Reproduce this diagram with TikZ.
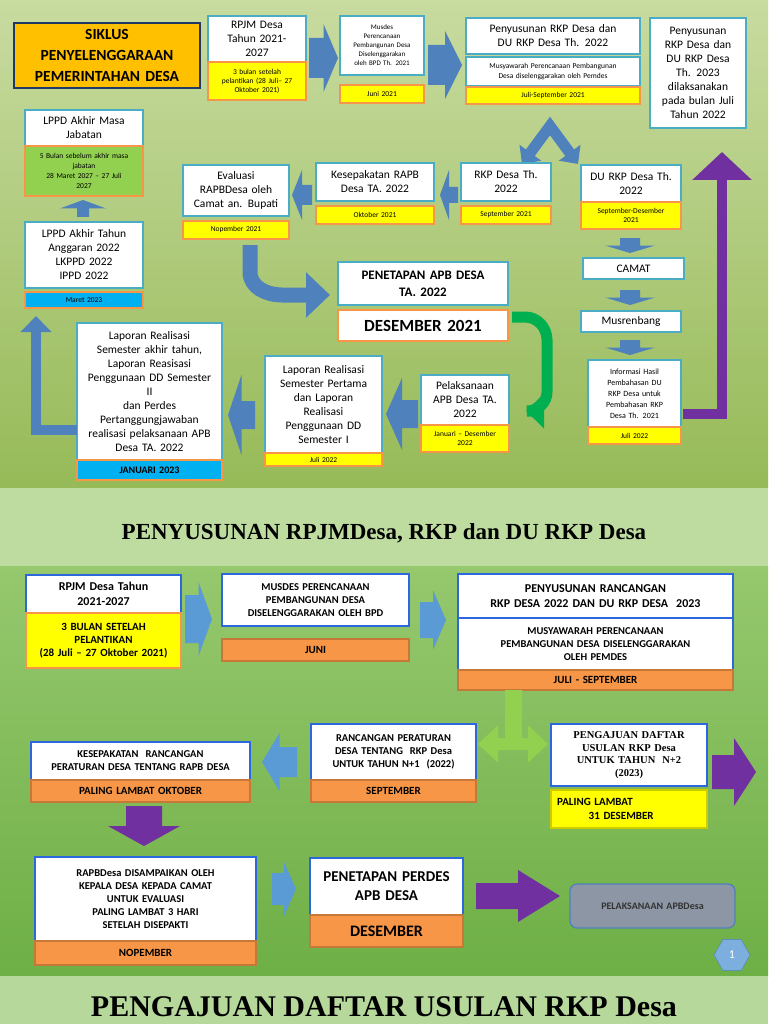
\documentclass[tikz,border=0pt]{standalone}
\usepackage{fontspec}
\setmainfont{Carlito}
\newfontfamily\tms{Liberation Serif}
\usetikzlibrary{arrows.meta,shapes.geometric}
\definecolor{cb}{HTML}{4BACC6}
\definecolor{ob}{HTML}{F79646}
\definecolor{yl}{HTML}{FFFF00}
\definecolor{sky}{HTML}{00B0F0}
\definecolor{gbox}{HTML}{92D050}
\definecolor{ab}{HTML}{4F81BD}
\definecolor{lab}{HTML}{5B9BD5}
\definecolor{pu}{HTML}{7030A0}
\definecolor{gr}{HTML}{00B050}
\definecolor{lgr}{HTML}{92D050}
\definecolor{bgA}{HTML}{C8DBA0}
\definecolor{bgB}{HTML}{96BA58}
\definecolor{bgC}{HTML}{BEDCA0}
\definecolor{bgD}{HTML}{96C86E}
\definecolor{bgE}{HTML}{6EAF46}
\definecolor{bgF}{HTML}{B6D89B}
\definecolor{tor}{HTML}{FFC000}
\definecolor{tnv}{HTML}{1F3864}
\definecolor{gry}{HTML}{8C96A5}
\newcommand\AH[6]{\fill[#1] ({#2},{#4-#6}) -- ({#3-0.5*(#3-#2)},{#4-#6}) -- ({#3-0.5*(#3-#2)},{#4-#5}) -- ({#3},{#4}) -- ({#3-0.5*(#3-#2)},{#4+#5}) -- ({#3-0.5*(#3-#2)},{#4+#6}) -- ({#2},{#4+#6}) -- cycle;}
\newcommand\AV[6]{\fill[#1] ({#4-#6},{#2}) -- ({#4-#6},{#3-0.5*(#3-#2)}) -- ({#4-#5},{#3-0.5*(#3-#2)}) -- ({#4},{#3}) -- ({#4+#5},{#3-0.5*(#3-#2)}) -- ({#4+#6},{#3-0.5*(#3-#2)}) -- ({#4+#6},{#2}) -- cycle;}
\newcommand\B[7][]{\pgfmathsetmacro\bw{#5-#3}\pgfmathsetmacro\bh{#6-#4}\pgfmathsetmacro\tw{#5-#3-5}%
\node[box,minimum width=\bw pt,minimum height=\bh pt,text width=\tw pt,#1] (#2) at ({(#3+#5)/2},{(#4+#6)/2}) {#7};}
\begin{document}
\begin{tikzpicture}[x=1pt,y=-1pt,
 box/.style={draw=cb,fill=white,line width=1.3pt,align=center,inner sep=2.5pt,font=\fontsize{11.5}{14}\selectfont},
 yb/.style={fill=yl,draw=ob,font=\fontsize{7.5}{9}\selectfont},
 ob2/.style={fill=ob,draw=ob!80!black,font=\fontsize{11}{13}\bfseries},
 bb/.style={font=\fontsize{10.5}{13}\bfseries}]
\useasboundingbox (0,0) rectangle (768,1024);
% backgrounds
\shade[top color=bgA, bottom color=bgB] (0,0) rectangle (768,488);
\fill[bgC] (0,488) rectangle (768,566);
\shade[top color=bgD, bottom color=bgE] (0,566) rectangle (768,976);
\fill[bgF] (0,976) rectangle (768,1024);
% ---------- top ----------
\B[fill=tor,draw=tnv,font=\fontsize{15.5}{21}\bfseries]{t}{14}{23}{200}{88}{SIKLUS\\PENYELENGGARAAN\\PEMERINTAHAN DESA}
\B{r1}{208}{16}{306}{62}{RPJM Desa\\Tahun 2021-\\2027}
\B[yb]{r1y}{208}{62}{306}{100}{3 bulan setelah\\pelantikan (28 Juli– 27\\Oktober 2021)}
\AH{ab}{309}{338}{58}{34}{20}
\B[font=\fontsize{7}{9}\selectfont]{m1}{340}{16}{424}{75}{Musdes\\Perencanaan\\Pembangunan Desa\\Diselenggarakan\\oleh BPD Th. 2021}
\B[yb]{m1y}{340}{85}{424}{103}{Juni 2021}
\AH{ab}{428}{462}{65}{34}{20}
\B{p1}{466}{18}{640}{54}{Penyusunan RKP Desa dan\\DU RKP Desa Th. 2022}
\B[font=\fontsize{7.5}{10}\selectfont]{p2}{466}{57}{640}{86}{Musyawarah Perencanaan Pembangunan\\Desa diselenggarakan oleh Pemdes}
\B[yb]{p1y}{466}{87}{640}{104}{Juli-September 2021}
\B{p3}{650}{18}{746}{128}{Penyusunan\\RKP Desa dan\\DU RKP Desa\\Th. 2023\\dilaksanakan\\pada bulan Juli\\Tahun 2022}
\draw[ab,line width=11pt,{Triangle[length=14pt,width=26pt]}-{Triangle[length=14pt,width=26pt]}] (522,164) -- (550,126) -- (578,164);
\B{l1}{25}{110}{143}{146}{LPPD Akhir Masa\\Jabatan}
\B[fill=gbox,draw=ob,font=\fontsize{7.5}{10}\selectfont]{l1g}{25}{146}{143}{196}{5 Bulan sebelum akhir masa\\jabatan\\28 Maret 2027 – 27 Juli\\2027}
\AV{ab}{217}{200}{83}{23}{6}
\B{l2}{25}{222}{143}{288}{LPPD Akhir Tahun\\Anggaran 2022\\LKPPD 2022\\IPPD 2022}
\B[fill=sky,draw=ob,font=\fontsize{7.5}{9}\selectfont]{l2b}{25}{292}{143}{308}{Maret 2023}
\B{e1}{183}{165}{289}{216}{Evaluasi\\RAPBDesa oleh\\Camat an. Bupati}
\B[yb]{e1y}{183}{221}{289}{239}{Nopember 2021}
\AH{ab}{312}{292}{195}{25}{10}
\B{k1}{316}{163}{434}{201}{Kesepakatan RAPB\\Desa TA. 2022}
\B[yb]{k1y}{316}{206}{434}{224}{Oktober 2021}
\AH{ab}{458}{440}{195}{25}{8}
\B{rk}{461}{163}{551}{201}{RKP Desa Th.\\2022}
\B[yb]{rky}{461}{206}{551}{224}{September 2021}
\B{du}{581}{165}{681}{202}{DU RKP Desa Th.\\2022}
\B[yb]{duy}{581}{202}{681}{229}{September-Desember\\2021}
\AV{ab}{238}{253}{630}{25}{10}
\B{cm}{583}{258}{684}{279}{CAMAT}
\AV{ab}{290}{305}{630}{25}{10}
\B{mu}{581}{311}{681}{332}{Musrenbang}
\AV{ab}{340}{355}{630}{25}{10}
\B[font=\fontsize{8}{11}\selectfont]{inf}{588}{360}{681}{427}{Informasi Hasil\\Pembahasan DU\\RKP Desa untuk\\Pembahasan RKP\\Desa Th. 2021}
\B[yb]{infy}{588}{427}{681}{444}{Juli 2022}
\draw[pu,line width=10pt,-{Triangle[length=28pt,width=58pt]}] (683,414) -- (722,414) -- (722,152);
\draw[ab,line width=15pt,-{Triangle[length=24pt,width=44pt]}] (250,245) -- (250,272) to[out=-90,in=180] (282,295) -- (330,295);
\B[font=\fontsize{13}{17}\bfseries]{pn}{338}{262}{508}{305}{PENETAPAN APB DESA\\TA. 2022}
\B[draw=ob,font=\fontsize{17}{20}\bfseries]{ds}{338}{310}{508}{341}{DESEMBER 2021}
\draw[gr,line width=11pt,-{Triangle[length=18pt,width=34pt]}] (512,317) -- (525,317) to[out=0,in=90] (547,340) -- (547,392) to[out=-90,in=0] (527,411) -- (526,411);
\B{pl}{421}{375}{509}{425}{Pelaksanaan\\APB Desa TA.\\2022}
\B[yb]{ply}{421}{425}{509}{452}{Januari – Desember\\2022}
\AH{ab}{418}{386}{414}{36}{14}
\B{ls}{265}{356}{382}{453}{Laporan Realisasi\\Semester Pertama\\dan Laporan\\Realisasi\\Penggunaan DD\\Semester I}
\B[yb]{lsy}{265}{453}{382}{466}{Juli 2022}
\AH{ab}{255}{228}{415}{40}{14}
\B{la}{77}{323}{222}{460}{Laporan Realisasi\\Semester akhir tahun,\\Laporan Reasisasi\\Penggunaan DD Semester\\II\\dan Perdes\\Pertanggungjawaban\\realisasi pelaksanaan APB\\Desa TA. 2022}
\B[fill=sky,draw=ob,font=\fontsize{10}{12}\bfseries]{lab2}{77}{460}{222}{480}{JANUARI 2023}
\draw[ab,line width=10pt,-{Triangle[length=16pt,width=30pt]}] (77,430) -- (36,430) -- (36,316);
% ---------- bottom ----------
\node[font=\tms\fontsize{23}{26}\bfseries] (h1) at (384,533) {PENYUSUNAN RPJMDesa, RKP dan DU RKP Desa};
\B[bb,draw=cb!60!blue,font=\fontsize{12}{15}\bfseries]{b1}{26}{575}{181}{613}{RPJM Desa Tahun\\2021-2027}
\B[fill=yl,draw=ob,font=\fontsize{11}{13}\bfseries]{b1y}{26}{613}{181}{668}{3 BULAN SETELAH\\PELANTIKAN\\(28 Juli – 27 Oktober 2021)}
\AH{lab}{185}{212}{619}{37}{24}
\B[bb,draw=cb!60!blue]{b2}{222}{574}{409}{626}{MUSDES PERENCANAAN\\PEMBANGUNAN DESA\\DISELENGGARAKAN OLEH BPD}
\B[ob2]{b2o}{222}{639}{409}{661}{JUNI}
\AH{lab}{420}{446}{620}{30}{18}
\B[bb,draw=cb!60!blue,font=\fontsize{12}{15}\bfseries]{b3}{458}{574}{733}{618}{PENYUSUNAN RANCANGAN\\RKP DESA 2022 DAN DU RKP DESA\ \ 2023}
\B[bb,draw=cb!60!blue]{b3b}{458}{618}{733}{670}{MUSYAWARAH PERENCANAAN\\PEMBANGUNAN DESA DISELENGGARAKAN\\OLEH PEMDES}
\B[ob2]{b3o}{458}{670}{733}{690}{JULI - SEPTEMBER}
\fill[lgr] (505,690) rectangle (522,738);
\draw[lgr,line width=12pt,{Triangle[length=20pt,width=36pt]}-{Triangle[length=20pt,width=36pt]}] (478,744) -- (548,744);
\B[bb,draw=cb!60!blue]{b4}{311}{724}{476}{780}{RANCANGAN PERATURAN\\DESA TENTANG\ \ RKP Desa\\UNTUK TAHUN N+1\ \ (2022)}
\B[ob2]{b4o}{311}{780}{476}{802}{SEPTEMBER}
\AH{lab}{297}{262}{762}{29}{15}
\B[bb,draw=cb!60!blue]{b5}{31}{742}{250}{780}{KESEPAKATAN\ \ RANCANGAN\\PERATURAN DESA TENTANG RAPB DESA}
\B[ob2]{b5o}{31}{780}{250}{802}{PALING LAMBAT OKTOBER}
\B[bb,draw=cb!60!blue,font=\tms\fontsize{10.5}{12.5}\bfseries]{b6}{551}{724}{707}{786}{PENGAJUAN DAFTAR\\USULAN RKP Desa\\UNTUK TAHUN\ \ N+2\\(2023)}
\B[fill=yl,draw=yl!80!black,font=\fontsize{11}{14}\bfseries,align=left]{b6y}{551}{790}{707}{828}{\ PALING LAMBAT\\\hspace*{3.2em}31 DESEMBER}
\AH{pu}{712}{756}{772}{34}{17}
\AV{pu}{806}{846}{144}{36}{18}
\B[bb,draw=cb!60!blue]{b7}{35}{857}{256}{941}{RAPBDesa DISAMPAIKAN OLEH\\KEPALA DESA KEPADA CAMAT\\UNTUK EVALUASI\\PALING LAMBAT 3 HARI\\SETELAH DISEPAKTI}
\B[ob2]{b7o}{35}{941}{256}{965}{NOPEMBER}
\AH{lab}{272}{296}{889}{27}{16}
\B[bb,draw=cb!60!blue,font=\fontsize{15}{19}\bfseries]{b8}{310}{858}{463}{915}{PENETAPAN PERDES\\APB DESA}
\B[ob2,font=\fontsize{16}{19}\bfseries]{b8o}{310}{915}{463}{947}{DESEMBER}
\AH{pu}{476}{560}{896}{26}{13}
\B[fill=gry,draw=ab,rounded corners=7pt,font=\fontsize{10}{12}\bfseries,text=black!80]{b9}{570}{884}{735}{928}{PELAKSANAAN APBDesa}
\node[regular polygon,regular polygon sides=6,fill=lab!80!white,draw=ab,minimum size=36pt,inner sep=0pt,font=\fontsize{12}{14}\selectfont,text=white] (pg) at (732,955) {1};
\node[font=\tms\fontsize{30}{32}\bfseries] (h2) at (384,1007) {PENGAJUAN DAFTAR USULAN RKP Desa};
\end{tikzpicture}
\end{document}
